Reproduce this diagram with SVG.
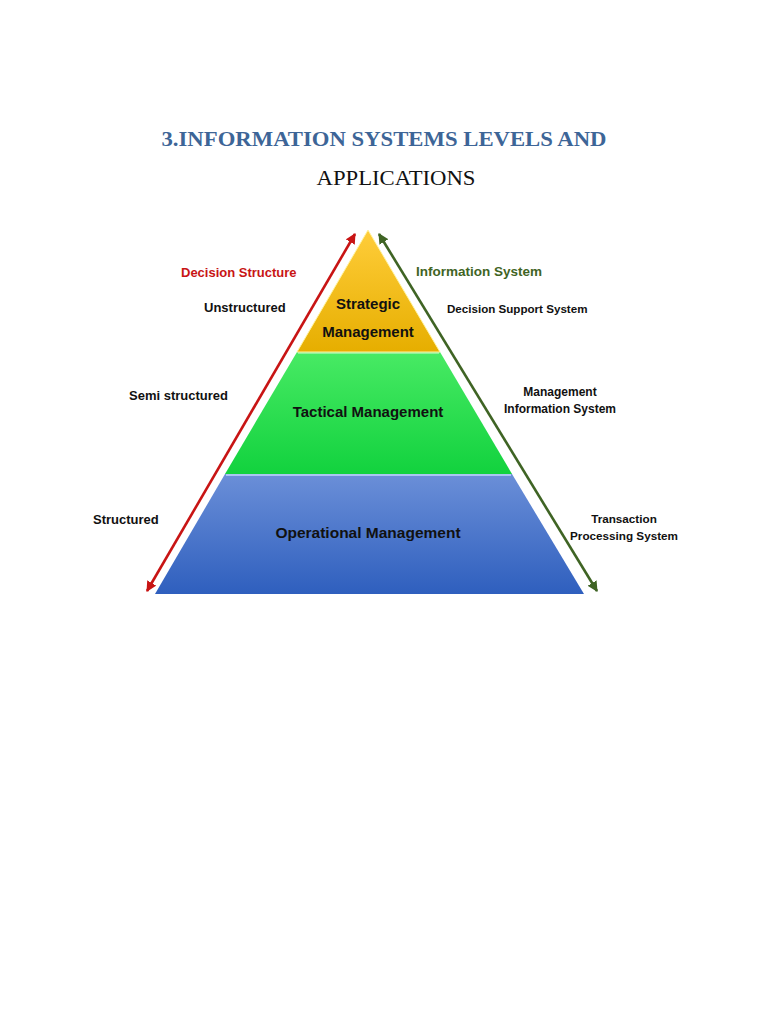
<svg xmlns="http://www.w3.org/2000/svg" width="768" height="1024" viewBox="0 0 768 1024">
<style>
.lbl{font-family:"Liberation Sans",Arial,sans-serif;font-weight:bold;fill:#111}
.lvl{font-family:"Liberation Sans",Arial,sans-serif;font-weight:bold;fill:#111;text-anchor:middle}
</style>
<defs>
<linearGradient id="gS" x1="0" y1="0" x2="0" y2="1"><stop offset="0" stop-color="#ffcd3a"/><stop offset="1" stop-color="#e6ae00"/></linearGradient>
<linearGradient id="gT" x1="0" y1="0" x2="0" y2="1"><stop offset="0" stop-color="#48ea64"/><stop offset="1" stop-color="#12d23e"/></linearGradient>
<linearGradient id="gO" x1="0" y1="0" x2="0" y2="1"><stop offset="0" stop-color="#6b8fd8"/><stop offset="1" stop-color="#2f5fbe"/></linearGradient>
<marker id="aR" viewBox="0 0 10 10" refX="9" refY="5" markerWidth="4" markerHeight="4" orient="auto-start-reverse" markerUnits="strokeWidth"><path d="M0,0 L10,5 L0,10 z" fill="#c81414"/></marker>
<marker id="aG" viewBox="0 0 10 10" refX="9" refY="5" markerWidth="4" markerHeight="4" orient="auto-start-reverse" markerUnits="strokeWidth"><path d="M0,0 L10,5 L0,10 z" fill="#3f6424"/></marker>
</defs>
<rect width="768" height="1024" fill="#ffffff"/>
<g id="title">
<text x="384" y="146" text-anchor="middle" font-family="Liberation Serif,'Times New Roman',serif" font-weight="bold" font-size="22" fill="#3d6597" textLength="445" lengthAdjust="spacingAndGlyphs">3.INFORMATION SYSTEMS LEVELS AND</text>
<text x="396" y="185" text-anchor="middle" font-family="Liberation Serif,'Times New Roman',serif" font-size="22" fill="#111" textLength="159" lengthAdjust="spacingAndGlyphs">APPLICATIONS</text>
</g>
<g id="operational">
<polygon points="225,474 512,474 584,594 155,594" fill="url(#gO)"/>
<line x1="226" y1="475" x2="511" y2="475" stroke="#a9c6f2" stroke-width="2"/>
<text class="lvl" x="368" y="538" font-size="15.5">Operational Management</text>
</g>
<g id="tactical">
<polygon points="297,352 440,352 512,474 225,474" fill="url(#gT)"/>
<line x1="298" y1="353" x2="439" y2="353" stroke="#8ef29c" stroke-width="2"/>
<text class="lvl" x="368" y="417" font-size="15">Tactical Management</text>
</g>
<g id="strategic">
<polygon points="368,230 440,352 297,352" fill="url(#gS)" stroke="#fff3a0" stroke-width="1"/>
<text class="lvl" x="368" y="309" font-size="15">Strategic</text>
<text class="lvl" x="368" y="337" font-size="15">Management</text>
</g>
<g id="connectors">
<line x1="147" y1="591" x2="355" y2="234" stroke="#c81414" stroke-width="2.6" marker-start="url(#aR)" marker-end="url(#aR)"/>
<line x1="379" y1="234" x2="597" y2="591" stroke="#3f6424" stroke-width="2.6" marker-start="url(#aG)" marker-end="url(#aG)"/>
</g>
<g id="left-labels">
<text class="lbl" x="181" y="277" font-size="13" style="fill:#c81414">Decision Structure</text>
<text class="lbl" x="204" y="312" font-size="13">Unstructured</text>
<text class="lbl" x="129" y="400" font-size="13">Semi structured</text>
<text class="lbl" x="93" y="524" font-size="13">Structured</text>
</g>
<g id="right-labels">
<text class="lbl" x="416" y="276" font-size="13.5" style="fill:#3f6424">Information System</text>
<text class="lbl" x="447" y="313" font-size="11.6">Decision Support System</text>
<text class="lvl" x="560" y="396" font-size="12">Management</text>
<text class="lvl" x="560" y="413" font-size="12">Information System</text>
<text class="lvl" x="624" y="523" font-size="11.7">Transaction</text>
<text class="lvl" x="624" y="540" font-size="11.7">Processing System</text>
</g>
</svg>
